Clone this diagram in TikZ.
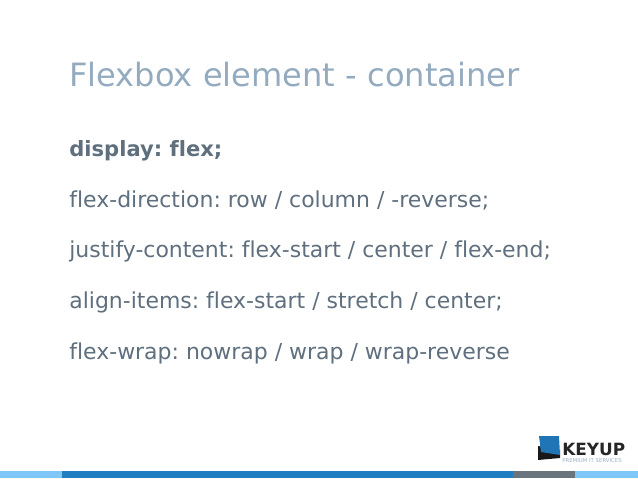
\documentclass[tikz,border=0pt]{standalone}
\usepackage{fontspec}
\setmainfont[Ligatures=NoCommon]{DejaVu Sans}
\frenchspacing
\definecolor{titleblue}{HTML}{94ABBF}
\definecolor{bodygrey}{HTML}{5F6F7E}
\definecolor{barlight}{HTML}{7FC7F7}
\definecolor{barblue}{HTML}{1F7FC1}
\definecolor{bargrey}{HTML}{6A747C}
\definecolor{logoblue}{HTML}{1F75B5}
\definecolor{logotag}{HTML}{9DB2C4}
\tikzset{
	headline/.style={anchor=base west, inner sep=0pt, color=titleblue, font=\fontsize{18.27pt}{22pt}\selectfont},
	bodyline/.style={anchor=base west, inner sep=0pt, color=bodygrey, font=\fontsize{12.5pt}{15pt}\selectfont}
}
\begin{document}
\begin{tikzpicture}[x=0.02cm, y=-0.02cm]
	\useasboundingbox (0, 0) rectangle (638, 478);
	
	\node[headline] (title) at (69, 86) {Flexbox element - container};
	\node[bodyline, font=\fontsize{12pt}{15pt}\selectfont\bfseries] (display) at (69, 156) {display: flex;};
	\node[bodyline] (direction) at (69, 207) {flex-direction: row / column / -reverse;};
	\node[bodyline] (justify) at (69, 257) {justify-content: flex-start / center / flex-end;};
	\node[bodyline] (align) at (69, 308) {align-items: flex-start / stretch / center;};
	\node[bodyline] (wrap) at (69, 359) {flex-wrap: nowrap / wrap / wrap-reverse};
	
	\fill[barlight] (0, 471) rectangle (62, 478);
	\fill[barblue] (62, 471) rectangle (513, 478);
	\fill[bargrey] (513, 471) rectangle (575, 478);
	\fill[barlight] (575, 471) rectangle (638, 478);
	
	\fill[black!90] (538, 446) -- (538, 460) -- (560, 458) -- (560, 450) -- cycle;
	\fill[logoblue] (539, 436) -- (559, 436) -- (560, 455) -- (541, 452) -- cycle;
	\node[anchor=base west, inner sep=0pt, color=black!85, font=\fontsize{9.6pt}{12pt}\selectfont\bfseries] (keyup) at (562, 455) {KEYUP};
	\node[anchor=base west, inner sep=0pt, color=logotag, font=\fontsize{3.05pt}{4pt}\selectfont] (tagline) at (562, 462) {PREMIUM IT SERVICES};
\end{tikzpicture}
\end{document}
